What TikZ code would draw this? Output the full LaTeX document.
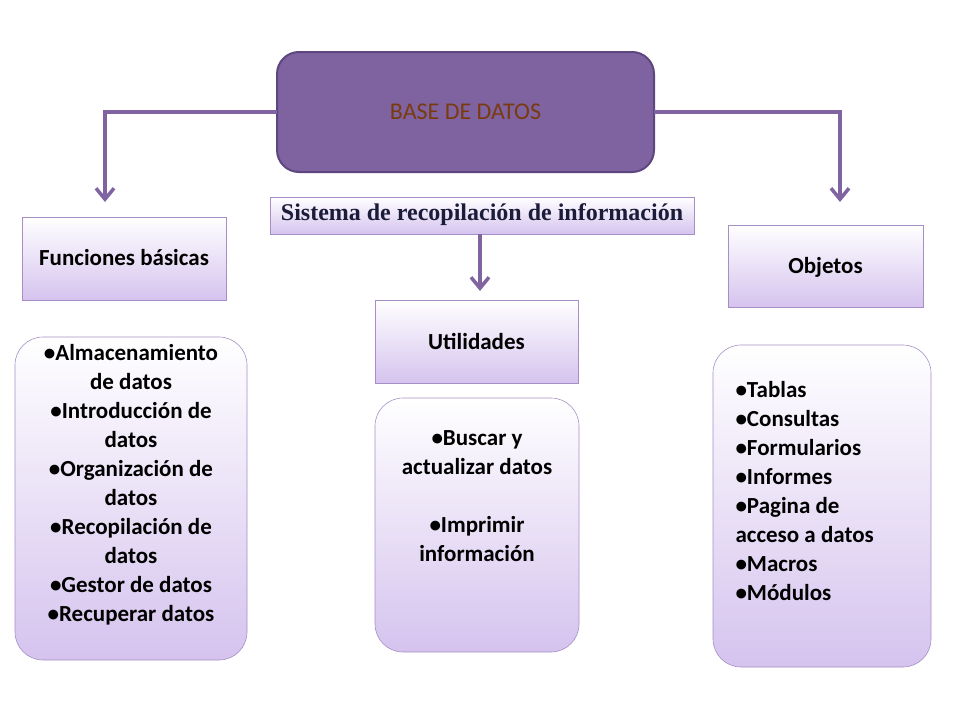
\documentclass[tikz,border=0pt]{standalone}
\usepackage{fontspec}
\setmainfont{Carlito}
\newfontfamily\serifb{Liberation Serif}
\usetikzlibrary{arrows.meta}
\definecolor{mainfill}{HTML}{7F63A1}
\definecolor{mainedge}{HTML}{5E4680}
\definecolor{lineC}{HTML}{8064A2}
\definecolor{lav}{HTML}{D5C3EE}
\definecolor{boxedge}{HTML}{A58FC6}
\definecolor{titletxt}{HTML}{7A3A10}
\definecolor{navy}{HTML}{1B1B3A}
\tikzset{
  conn/.style={draw=lineC,line width=3.5pt,-{Straight Barb[length=11pt,width=18pt,line width=3.5pt]}},
  sbox/.style={draw=boxedge,line width=0.6pt,top color=white,bottom color=lav,inner sep=0pt},
  rbox/.style={sbox,rounded corners=28pt},
  txt/.style={font=\bfseries\fontsize{23}{29}\selectfont,align=center,text=black}
}
\begin{document}
\begin{tikzpicture}[x=1pt,y=-1pt]
\useasboundingbox (0,0) rectangle (960,720);
\fill[white] (0,0) rectangle (960,720);
% main
\draw[fill=mainfill,draw=mainedge,line width=2pt,rounded corners=22pt] (277,52) rectangle (654,172);
\node (main) at (465.5,112) {\fontsize{24}{28}\selectfont\textcolor{titletxt}{BASE DE DATOS}};
\coordinate (mL) at (277,112);
\coordinate (mR) at (654,112);
% boxes
\draw[sbox] (270,197) rectangle (694,234);
\node (sis) at (482,215) {\serifb\bfseries\fontsize{24}{28}\selectfont\textcolor{navy}{Sistema de recopilación de información}};
\draw[sbox] (22,217) rectangle (226,300);
\node[txt] (fun) at (124,258) {Funciones básicas};
\draw[sbox] (375,300) rectangle (578,383);
\node[txt] (uti) at (476.5,341) {Utilidades};
\draw[sbox] (728,225) rectangle (923,307);
\node[txt] (obj) at (825.5,267) {Objetos};
% lists
\draw[rbox] (15,337) rectangle (247,660);
\node[txt,anchor=north] (l1) at (131,341) {•Almacenamiento\\de datos\\•Introducción de\\datos\\•Organización de\\datos\\•Recopilación de\\datos\\•Gestor de datos\\•Recuperar datos};
\draw[rbox] (375,398) rectangle (579,652);
\node[txt,anchor=north] (l2) at (477,427) {•Buscar y\\actualizar datos\\[29pt]•Imprimir\\información};
\draw[rbox] (713,345) rectangle (931,667);
\node[txt,anchor=north west,align=left] (l3) at (732,378) {•Tablas\\•Consultas\\•Formularios\\•Informes\\•Pagina de\\acceso a datos\\•Macros\\•Módulos};
% connectors
\draw[conn] (mL) -- (105,112) -- (105,202);
\draw[conn] (mR) -- (840,112) -- (840,202);
\draw[conn] (480,234) -- (480,291);
\end{tikzpicture}
\end{document}
